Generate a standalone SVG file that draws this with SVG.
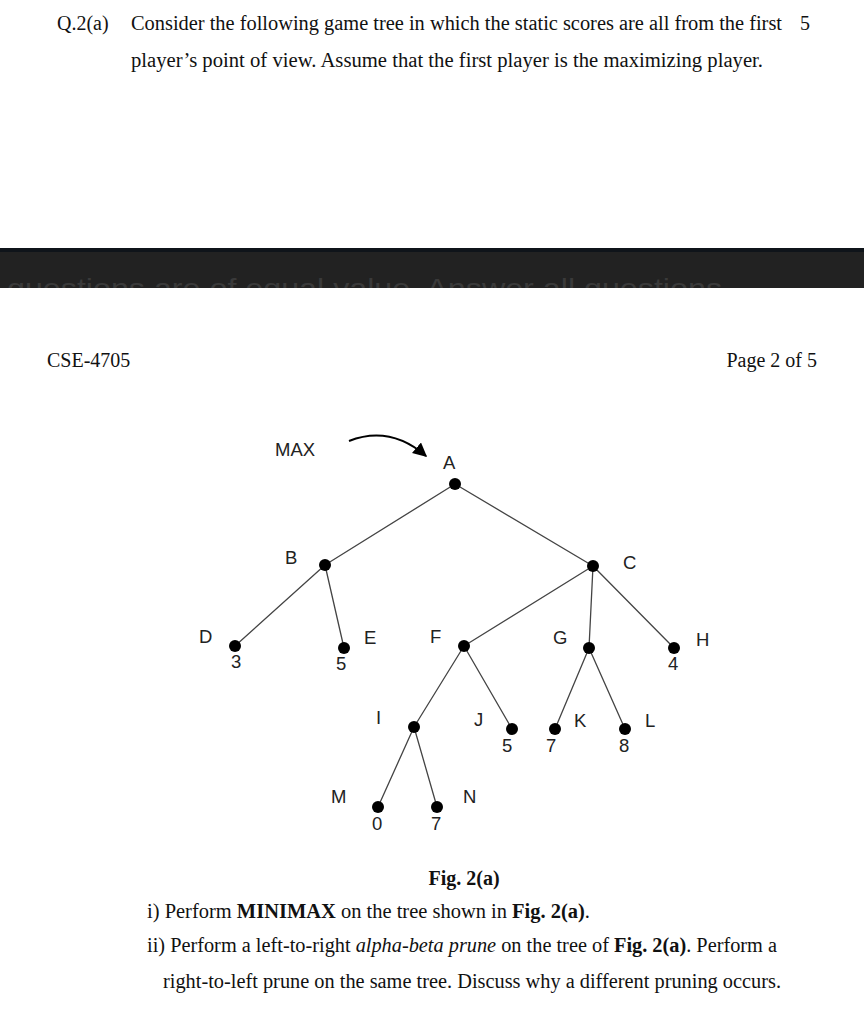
<svg xmlns="http://www.w3.org/2000/svg" width="864" height="1021" viewBox="0 0 864 1021">
<style>
.t{font-family:"Liberation Serif",serif;font-size:20px;fill:#111}
.l{font-family:"Liberation Sans",Arial,sans-serif;font-size:18.5px;fill:#222}
.e{stroke:#444;stroke-width:1.3;fill:none}
.n{fill:#000}
</style>
<defs>
<clipPath id="band"><rect x="0" y="248" width="864" height="40"/></clipPath>
<marker id="ah" viewBox="0 0 10 10" refX="9" refY="5" markerWidth="7" markerHeight="7" orient="auto"><path d="M0,0L10,5L0,10z" fill="#000"/></marker>
</defs>
<rect width="864" height="1021" fill="#fff"/>
<text class="t" x="57" y="30">Q.2(a)</text>
<text class="t" x="131" y="30" textLength="651" lengthAdjust="spacingAndGlyphs">Consider the following game tree in which the static scores are all from the first</text>
<text class="t" x="800" y="30">5</text>
<text class="t" x="131" y="67" textLength="632" lengthAdjust="spacingAndGlyphs">player’s point of view. Assume that the first player is the maximizing player.</text>
<rect x="0" y="248" width="864" height="40" fill="#222"/>
<rect x="0" y="248" width="864" height="4" fill="#0f141a"/>
<text clip-path="url(#band)" x="7" y="298" font-family="Liberation Sans,sans-serif" font-size="28" fill="#3a3a3a" textLength="715" lengthAdjust="spacingAndGlyphs">questions are of equal value. Answer all questions</text>
<text class="t" x="47" y="367" font-size="16">CSE-4705</text>
<text class="t" x="817" y="367" font-size="16" text-anchor="end">Page 2 of 5</text>
<g id="connectors">
<path class="e" d="M455,484L325,565M455,484L593,566M325,565L235,646M325,565L344,648M593,566L464,646M593,566L589,648M593,566L674,648M464,646L414,727M464,646L512,729M589,648L555,729M589,648L625,729M414,727L378,807M414,727L437,807"/>
<path d="M349,441Q390,425 426,456" stroke="#000" stroke-width="2" fill="none" marker-end="url(#ah)"/>
</g>
<g id="max"><text class="l" x="275" y="456" font-size="21">MAX</text></g>
<g id="A"><circle class="n" cx="455" cy="484" r="6"/><text class="l" x="443" y="469">A</text></g>
<g id="B"><circle class="n" cx="325" cy="565" r="6"/><text class="l" x="285" y="564">B</text></g>
<g id="C"><circle class="n" cx="593" cy="566" r="6"/><text class="l" x="623" y="569">C</text></g>
<g id="D"><circle class="n" cx="235" cy="646" r="6"/><text class="l" x="199" y="643">D</text><text class="l" x="231" y="668">3</text></g>
<g id="E"><circle class="n" cx="344" cy="648" r="6"/><text class="l" x="364" y="644">E</text><text class="l" x="336" y="670">5</text></g>
<g id="F"><circle class="n" cx="464" cy="646" r="6"/><text class="l" x="430" y="643">F</text></g>
<g id="G"><circle class="n" cx="589" cy="648" r="6"/><text class="l" x="553" y="644">G</text></g>
<g id="H"><circle class="n" cx="674" cy="648" r="6"/><text class="l" x="696" y="646">H</text><text class="l" x="668" y="670">4</text></g>
<g id="I"><circle class="n" cx="414" cy="727" r="6"/><text class="l" x="376" y="724">I</text></g>
<g id="J"><circle class="n" cx="512" cy="729" r="6"/><text class="l" x="474" y="726">J</text><text class="l" x="502" y="752">5</text></g>
<g id="K"><circle class="n" cx="555" cy="729" r="6"/><text class="l" x="574" y="727">K</text><text class="l" x="546" y="752">7</text></g>
<g id="L"><circle class="n" cx="625" cy="729" r="6"/><text class="l" x="645" y="727">L</text><text class="l" x="619" y="752">8</text></g>
<g id="M"><circle class="n" cx="378" cy="807" r="6"/><text class="l" x="331" y="803">M</text><text class="l" x="372" y="830">0</text></g>
<g id="N"><circle class="n" cx="437" cy="807" r="6"/><text class="l" x="463" y="803">N</text><text class="l" x="431" y="830">7</text></g>
<text class="t" x="464" y="885" text-anchor="middle" font-weight="bold">Fig. 2(a)</text>
<text class="t" x="147" y="918" textLength="443" lengthAdjust="spacingAndGlyphs">i) Perform <tspan font-weight="bold">MINIMAX</tspan> on the tree shown in <tspan font-weight="bold">Fig. 2(a)</tspan>.</text>
<text class="t" x="147" y="952" textLength="630" lengthAdjust="spacingAndGlyphs">ii) Perform a left-to-right <tspan font-style="italic">alpha-beta prune</tspan> on the tree of <tspan font-weight="bold">Fig. 2(a)</tspan>. Perform a</text>
<text class="t" x="163" y="988" textLength="618" lengthAdjust="spacingAndGlyphs">right-to-left prune on the same tree. Discuss why a different pruning occurs.</text>
</svg>
